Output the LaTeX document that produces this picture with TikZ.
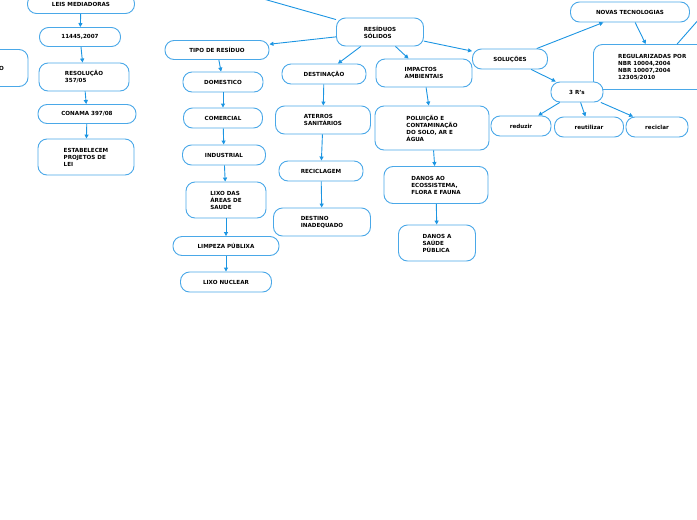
\documentclass[tikz,border=0pt]{standalone}
\usepackage{fontspec}
\setmainfont{DejaVu Sans}
\usetikzlibrary{arrows.meta}
\definecolor{bd}{HTML}{4AA8E8}
\definecolor{ar}{HTML}{1C95E2}
\tikzset{
 bx/.style={draw=bd,line width=0.9pt,rounded corners=9pt,fill=white,font=\fontsize{5.6}{7}\selectfont\bfseries,inner sep=0pt,align=left},
 cn/.style={draw=ar,line width=0.9pt,-{Triangle[length=4pt,width=4pt]}},
 ln/.style={draw=ar,line width=0.9pt},
}
\newcommand{\bxn}[6]{\node[bx,minimum width=#4pt,minimum height=#5pt] (#1) at (#2,#3) {#6};}
\begin{document}
\begin{tikzpicture}[x=1pt,y=-1pt]
\useasboundingbox (0,0) rectangle (697,520);
\clip (0,0) rectangle (697,520);
\bxn{leis}{81}{4}{107}{19}{LEIS MEDIADORAS}
\bxn{l1}{80}{37}{81}{19}{11445,2007}
\bxn{l2}{84}{77}{90}{28}{RESOLUÇÃO\\357/05}
\bxn{l3}{87}{114}{98}{19}{CONAMA 397/08}
\bxn{l4}{86}{157}{96}{36}{ESTABELECEM\\PROJETOS DE\\LEI}
\node[bx,minimum width=56pt,minimum height=37pt] (lp) at (0,68) {};
\node[font=\fontsize{5.6}{7}\selectfont\bfseries,anchor=east,inner sep=0pt] (lpt) at (4,68) {O};
\bxn{rs}{380}{32}{87}{28}{RESÍDUOS\\SÓLIDOS}
\bxn{tipo}{217}{50}{104}{19}{TIPO DE RESÍDUO}
\bxn{dom}{223}{82}{80}{20}{DOMESTICO}
\bxn{com}{223}{118}{79}{20}{COMERCIAL}
\bxn{ind}{224}{155}{83}{20}{INDUSTRIAL}
\bxn{lixo}{226}{200}{80}{36}{LIXO DAS\\ÁREAS DE\\SAUDE}
\bxn{limp}{226}{246}{106}{19}{LIMPEZA PÚBLIXA}
\bxn{nuc}{226}{282}{91}{20}{LIXO NUCLEAR}
\bxn{dest}{324}{74}{84}{20}{DESTINAÇÃO}
\bxn{ater}{323}{120}{95}{28}{ATERROS\\SANITÁRIOS}
\bxn{rec}{321}{171}{84}{20}{RECICLAGEM}
\bxn{dinad}{322}{222}{97}{28}{DESTINO\\INADEQUADO}
\bxn{imp}{424}{73}{96}{28}{IMPACTOS\\AMBIENTAIS}
\bxn{pol}{432}{128}{114}{44}{POLUIÇÃO E\\CONTAMINAÇÃO\\DO SOLO, AR E\\ÁGUA}
\bxn{eco}{436}{185}{104}{37}{DANOS AO\\ECOSSISTEMA,\\FLORA E FAUNA}
\bxn{sau}{437}{243}{77}{36}{DANOS A\\SAÚDE\\PÚBLICA}
\bxn{sol}{510}{59}{75}{20}{SOLUÇÕES}
\bxn{nov}{630}{12}{119}{20}{NOVAS TECNOLOGIAS}
\node[bx,minimum width=127pt,minimum height=45pt,anchor=west] (reg) at (593,67) {};
\node[font=\fontsize{5.6}{7}\selectfont\bfseries,align=left,anchor=west,inner sep=0pt] (regt) at (618,67) {REGULARIZADAS POR\\NBR 10004,2004\\NBR 10007,2004\\12305/2010};
\bxn{tres}{577}{92}{52}{20}{3 R's}
\bxn{red}{521}{126}{60}{20}{reduzir}
\bxn{reu}{589}{127}{69}{20}{reutilizar}
\bxn{rcl}{657}{127}{62}{20}{reciclar}
\coordinate (top) at (260,-2);
\coordinate (tr) at (700,18);
\draw[ln] (top) -- (rs);
\draw[ln] (tr) -- (reg);
\draw[cn] (leis) -- (l1);
\draw[cn] (l1) -- (l2);
\draw[cn] (l2) -- (l3);
\draw[cn] (l3) -- (l4);
\draw[cn] (rs) -- (tipo);
\draw[cn] (tipo) -- (dom);
\draw[cn] (dom) -- (com);
\draw[cn] (com) -- (ind);
\draw[cn] (ind) -- (lixo);
\draw[cn] (lixo) -- (limp);
\draw[cn] (limp) -- (nuc);
\draw[cn] (rs) -- (dest);
\draw[cn] (dest) -- (ater);
\draw[cn] (ater) -- (rec);
\draw[cn] (rec) -- (dinad);
\draw[cn] (rs) -- (imp);
\draw[cn] (imp) -- (pol);
\draw[cn] (pol) -- (eco);
\draw[cn] (eco) -- (sau);
\draw[cn] (rs) -- (sol);
\draw[cn] (sol) -- (nov);
\draw[cn] (nov) -- (reg);
\draw[cn] (sol) -- (tres);
\draw[cn] (tres) -- (red);
\draw[cn] (tres) -- (reu);
\draw[cn] (tres) -- (rcl);
\end{tikzpicture}
\end{document}
